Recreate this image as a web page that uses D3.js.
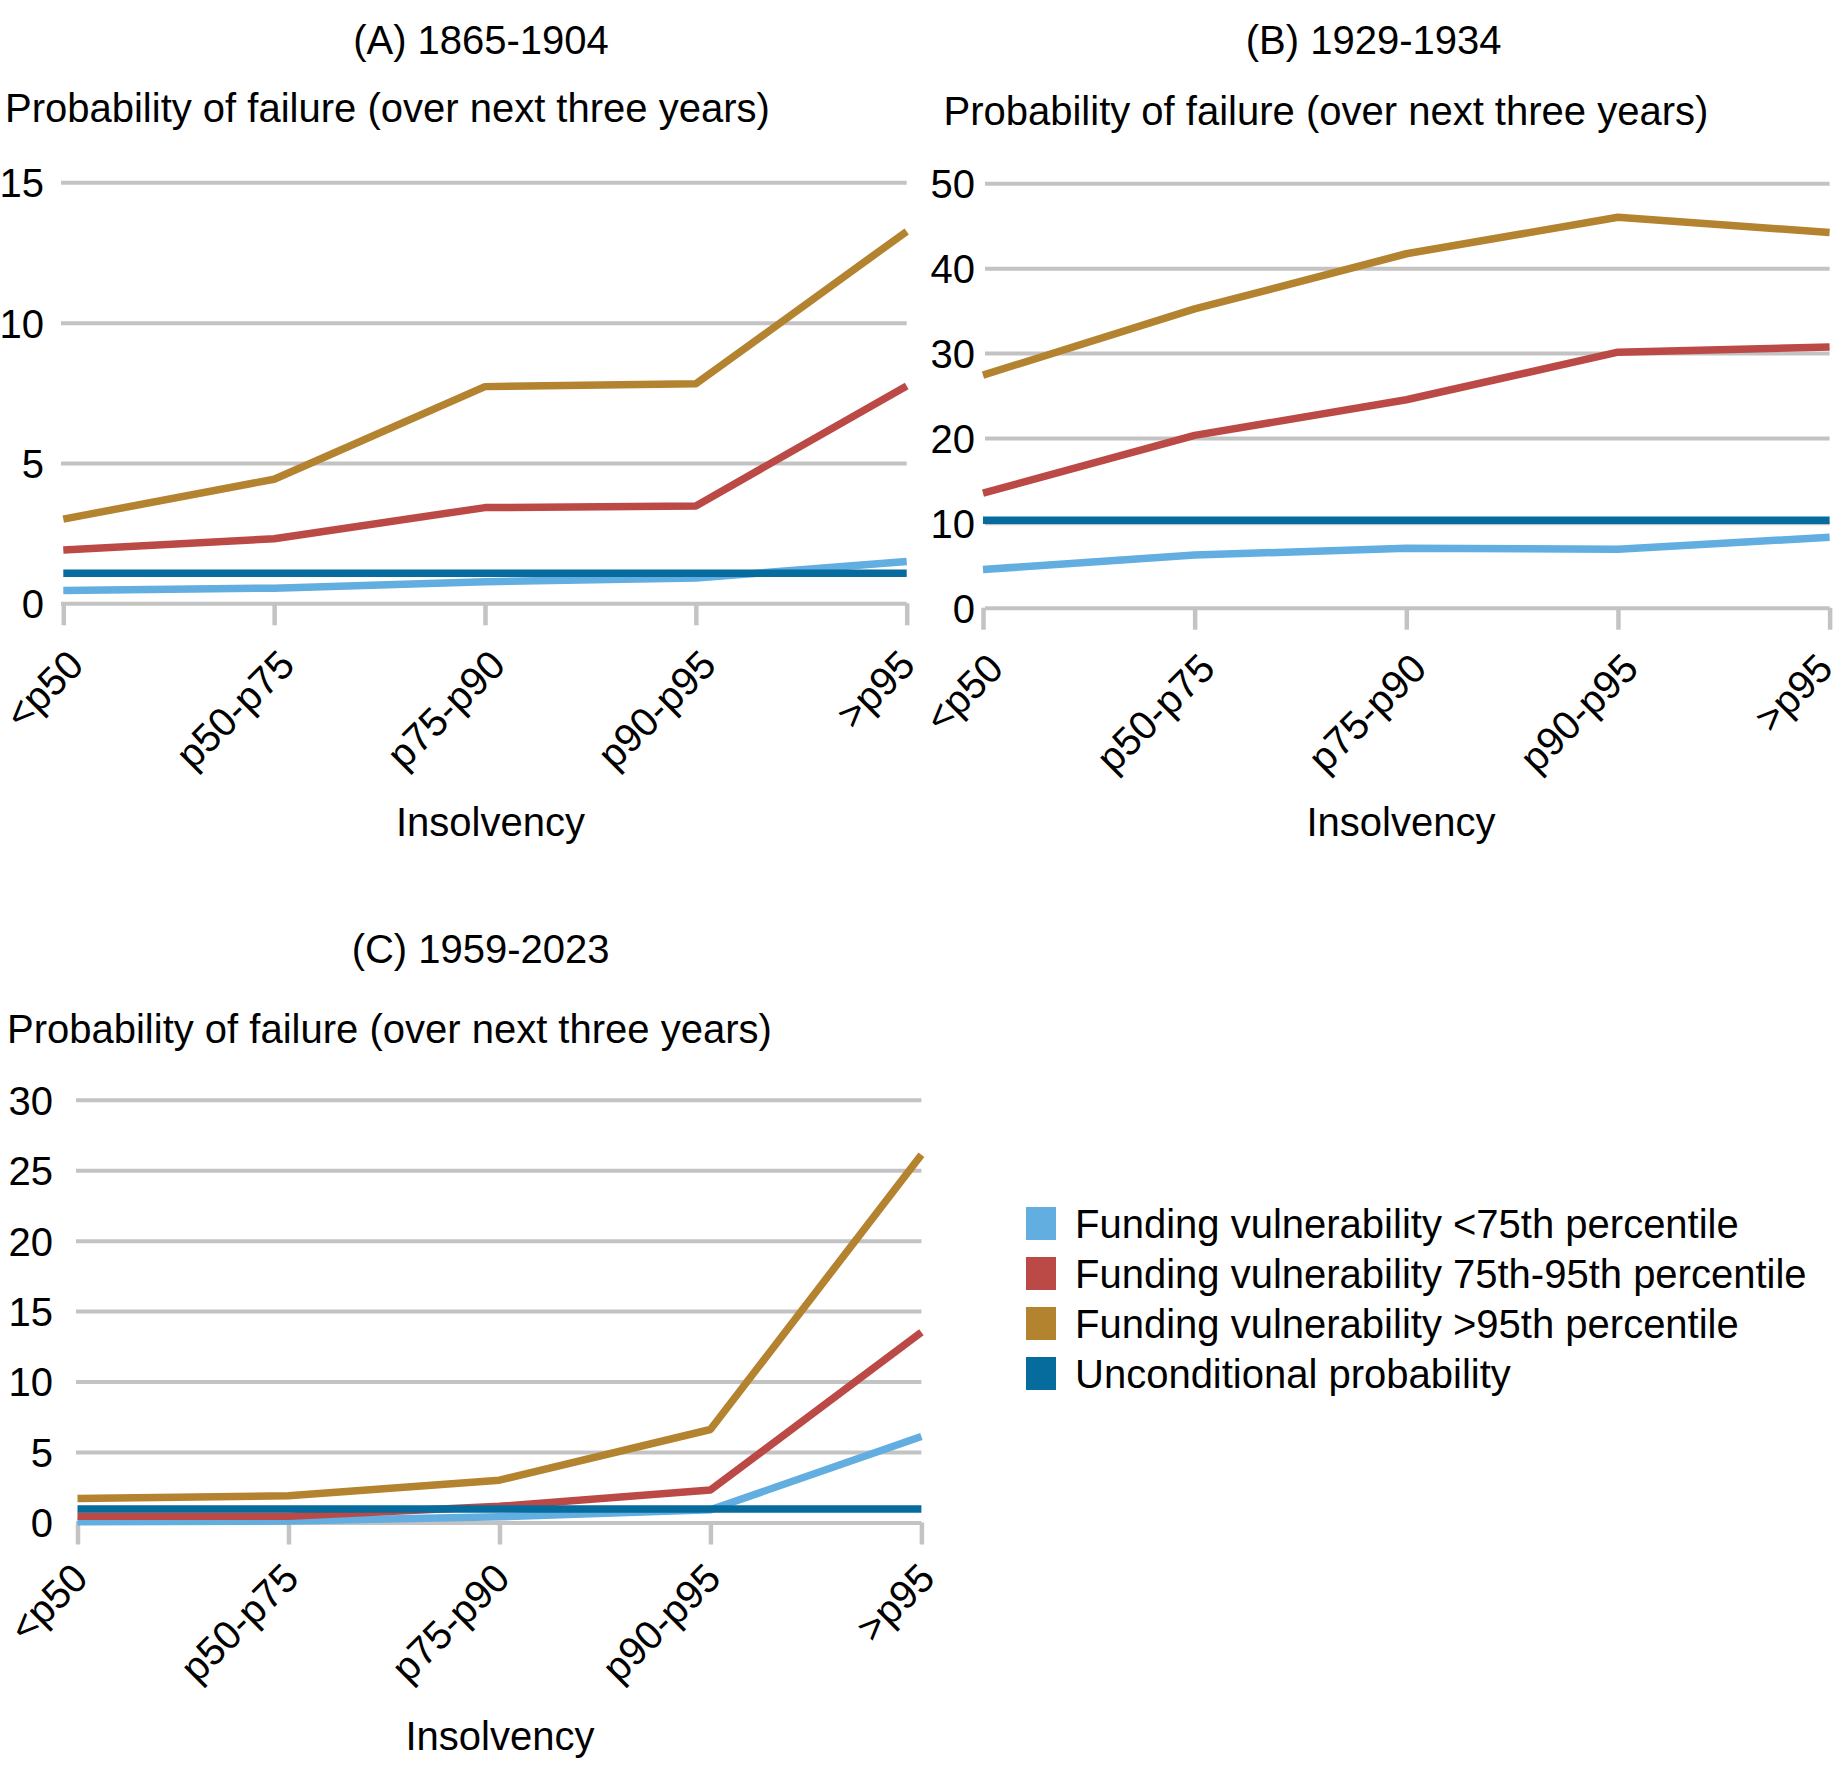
<!DOCTYPE html>
<html>
<head>
<meta charset="utf-8">
<script src="https://cdn.jsdelivr.net/npm/d3@7"></script>
<style>
  body { margin: 0; background: #fff; }
  text { font-family: "Liberation Sans", Arial, Helvetica, sans-serif; fill: #000; }
</style>
</head>
<body>
<script>
var width = 1840, height = 1774;

// the data
var categories = ["<p50", "p50-p75", "p75-p90", "p90-p95", ">p95"];
var seriesNames = [
  "Funding vulnerability <75th percentile",
  "Funding vulnerability 75th-95th percentile",
  "Funding vulnerability >95th percentile",
  "Unconditional probability"
];
var seriesColors = ["#62aee0", "#bb4a47", "#b38330", "#066b9d"];

var panelTitles = ["(A) 1865-1904", "(B) 1929-1934", "(C) 1959-2023"];
var yLabel = "Probability of failure (over next three years)";
var xLabel = "Insolvency";

var ticksA = [0, 5, 10, 15];
var lowA   = [0.46, 0.54, 0.77, 0.9, 1.49];
var midA   = [1.9, 2.3, 3.41, 3.47, 7.74];
var highA  = [3.0, 4.42, 7.72, 7.82, 13.25];
var uncA   = [1.07, 1.07, 1.07, 1.07, 1.07];

var ticksB = [0, 10, 20, 30, 40, 50];
var lowB   = [4.5, 6.2, 7.0, 6.9, 8.3];
var midB   = [13.5, 20.3, 24.5, 30.1, 30.7];
var highB  = [27.4, 35.2, 41.7, 46.0, 44.2];
var uncB   = [10.3, 10.3, 10.3, 10.3, 10.3];

var ticksC = [0, 5, 10, 15, 20, 25, 30];
var lowC   = [0.05, 0.1, 0.4, 0.9, 6.1];
var midC   = [0.44, 0.45, 1.15, 2.3, 13.5];
var highC  = [1.7, 1.9, 3.0, 6.6, 26.1];
var uncC   = [0.95, 0.95, 0.95, 0.95, 0.95];

// where each panel sits on the page
// tdx/tdy = offset of the slanted tick labels, lastDx = last label gets pushed in so it fits
var panels = [
  { title: panelTitles[0], ticks: ticksA, series: [lowA, midA, highA, uncA],
    x0: 63.3, x1: 906.7, gridStart: 61, yTop: 182.3, yBottom: 603.3,
    labelRight: 44, titleX: 481, titleY: 54, yLabX: 5, yLabY: 121.7,
    xLabX: 490.5, xLabY: 836, tdx: 22, tdy: 64, lastDx: 10 },
  { title: panelTitles[1], ticks: ticksB, series: [lowB, midB, highB, uncB],
    x0: 983, x1: 1829.6, gridStart: 985, yTop: 183.3, yBottom: 607.7,
    labelRight: 975, titleX: 1373.6, titleY: 54, yLabX: 943.5, yLabY: 125,
    xLabX: 1401, xLabY: 836, tdx: 22, tdy: 63, lastDx: 5 },
  { title: panelTitles[2], ticks: ticksC, series: [lowC, midC, highC, uncC],
    x0: 77.5, x1: 921.4, gridStart: 76, yTop: 1099.7, yBottom: 1522.5,
    labelRight: 53, titleX: 480.6, titleY: 963, yLabX: 7, yLabY: 1042.5,
    xLabX: 500, xLabY: 1750, tdx: 12, tdy: 58, lastDx: 15 }
];

var fontSize = 40;

var svg = d3.select("body")
    .append("svg")
    .attr("width", width)
    .attr("height", height);

svg.append("rect")
    .attr("width", width)
    .attr("height", height)
    .attr("fill", "#fff");

panels.forEach(drawPanel);
drawLegend();

function drawPanel(p) {
  var g = svg.append("g");

  var x = d3.scalePoint()
      .domain(categories)
      .range([p.x0, p.x1]);
  var y = d3.scaleLinear()
      .domain([0, d3.max(p.ticks)])
      .range([p.yBottom, p.yTop]);

  // gridlines + y labels in one go
  var yAxis = g.append("g")
      .attr("transform", "translate(" + p.gridStart + ",0)")
      .call(d3.axisLeft(y)
        .tickValues(p.ticks)
        .tickSize(-(p.x1 - p.gridStart))
        .tickPadding(p.gridStart - p.labelRight)
        .tickFormat(d3.format("d")));
  yAxis.select(".domain").remove();
  yAxis.selectAll(".tick line")
      .attr("stroke", "#c3c3c3")
      .attr("stroke-width", 4);
  yAxis.selectAll(".tick text")
      .attr("dy", "0.36em")
      .style("font-size", fontSize + "px");

  // x ticks hanging down off the zero line, labels slanted
  var xAxis = g.append("g")
      .attr("transform", "translate(0," + p.yBottom + ")")
      .call(d3.axisBottom(x).tickSize(22).tickSizeOuter(0));
  xAxis.select(".domain").remove();
  xAxis.selectAll(".tick line")
      .attr("stroke", "#c3c3c3")
      .attr("stroke-width", 4.5);
  xAxis.selectAll(".tick text")
      .attr("x", null)
      .attr("y", null)
      .attr("dy", null)
      .attr("text-anchor", "end")
      .attr("transform", function(d, i) {
        var dx = (i === categories.length - 1) ? p.lastDx : p.tdx;
        return "translate(" + dx + "," + p.tdy + ") rotate(-45)";
      })
      .style("font-size", fontSize + "px");

  var line = d3.line()
      .x(function(d, i) { return x(categories[i]); })
      .y(function(d) { return y(d); });

  g.selectAll("path.series")
      .data(p.series)
      .enter().append("path")
      .attr("class", "series")
      .attr("d", line)
      .attr("fill", "none")
      .attr("stroke", function(d, i) { return seriesColors[i]; })
      .attr("stroke-width", 7.5)
      .attr("stroke-linejoin", "round");

  g.append("text")
      .attr("x", p.titleX)
      .attr("y", p.titleY)
      .attr("text-anchor", "middle")
      .style("font-size", fontSize + "px")
      .text(p.title);

  g.append("text")
      .attr("x", p.yLabX)
      .attr("y", p.yLabY)
      .style("font-size", fontSize + "px")
      .text(yLabel);

  g.append("text")
      .attr("x", p.xLabX)
      .attr("y", p.xLabY)
      .attr("text-anchor", "middle")
      .style("font-size", fontSize + "px")
      .text(xLabel);
}

function drawLegend() {
  var leg = svg.append("g")
      .attr("transform", "translate(1026,1207)");
  var item = leg.selectAll("g")
      .data(seriesNames)
      .enter().append("g")
      .attr("transform", function(d, i) { return "translate(0," + (i * 50) + ")"; });
  item.append("rect")
      .attr("width", 30)
      .attr("height", 33)
      .attr("fill", function(d, i) { return seriesColors[i]; });
  item.append("text")
      .attr("x", 49)
      .attr("y", 31)
      .style("font-size", "40px")
      .text(function(d) { return d; });
}
</script>
</body>
</html>
